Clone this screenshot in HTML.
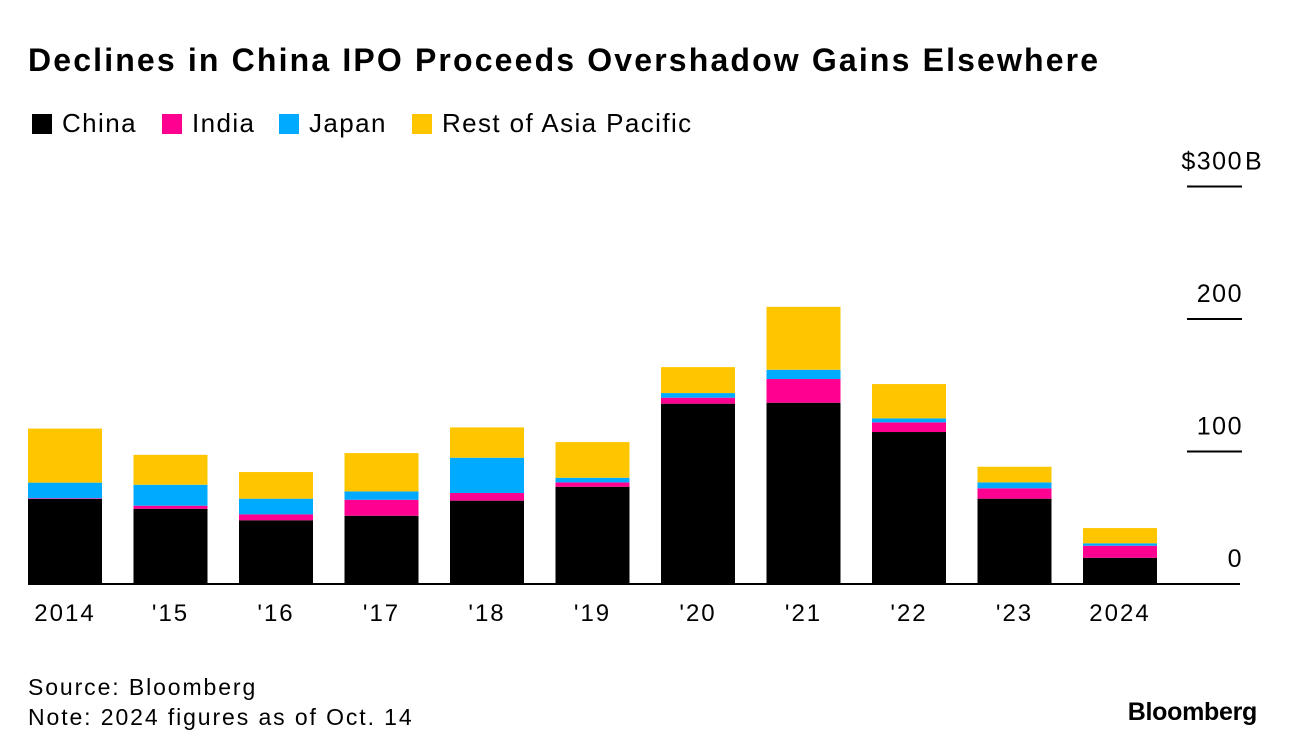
<!DOCTYPE html>
<html><head><meta charset="utf-8"><style>
body{margin:0;background:#fff;font-family:"Liberation Sans",sans-serif;}
#wrap{position:relative;width:1296px;height:756px;overflow:hidden;}
h1{position:absolute;left:28px;top:42px;margin:0;font-size:32px;font-weight:bold;letter-spacing:2.15px;color:#000;white-space:nowrap;}
.leg{position:absolute;top:108px;font-size:26px;color:#000;display:flex;align-items:center;letter-spacing:1.4px;}
.sw{width:20px;height:20px;margin-right:10px;display:inline-block;}
.foot{position:absolute;left:28px;font-size:23px;color:#000;letter-spacing:1.9px;white-space:nowrap;}
</style></head><body>
<div id="wrap">
<h1>Declines in China IPO Proceeds Overshadow Gains Elsewhere</h1>
<div class="leg" style="left:32px"><span class="sw" style="background:#000"></span>China</div>
<div class="leg" style="left:162px"><span class="sw" style="background:#ff0090"></span>India</div>
<div class="leg" style="left:279px"><span class="sw" style="background:#00aaff"></span>Japan</div>
<div class="leg" style="left:412px"><span class="sw" style="background:#ffc600"></span>Rest of Asia Pacific</div>
<svg id="svg" width="1296" height="756" style="position:absolute;left:0;top:0"></svg>
<div class="foot" style="top:674px">Source: Bloomberg</div>
<div class="foot" style="top:704px">Note: 2024 figures as of Oct. 14</div>
<div style="position:absolute;right:39px;top:698px;font-size:25px;font-weight:bold;letter-spacing:-0.3px">Bloomberg</div>
</div>
<script>
const categories=["2014","'15","'16","'17","'18","'19","'20","'21","'22","'23","2024"];
const china=[64.2,56.8,48.1,51.5,62.9,73.4,136.1,136.8,114.7,64.4,19.8];
const india=[0.5,2.3,4.5,12.1,5.8,3.3,4.5,17.9,7.3,7.8,9.1];
const japan=[11.8,15.8,11.8,6.3,26.6,3.5,3.5,7.0,3.0,4.5,1.8];
const rest=[40.8,22.6,20.1,28.9,22.9,26.9,19.6,47.5,25.9,11.8,11.5];
const ticks=[0,100,200,300];
const tickLabels=["0","100","200","$300"];
const tickSuffix=["","","","B"];
const NS="http://www.w3.org/2000/svg";
const svg=document.getElementById('svg');
const y0=584,ppu=1.325;
const y=v=>y0-v*ppu;
const x=i=>28+i*105.5;
const bw=74;
function mk(t,a){const e=document.createElementNS(NS,t);for(const k in a)e.setAttribute(k,a[k]);svg.appendChild(e);return e;}
ticks.forEach((t,i)=>{
  if(t>0){const l=mk('line',{x1:1187,x2:1242,y1:y(t),y2:y(t),stroke:'#000','stroke-width':2});
  
  }
  const tx=mk('text',{x:1243,y:y(t)-17,'text-anchor':'end','font-size':25,fill:'#000','font-family':'Liberation Sans','letter-spacing':'1.5'});
  tx.textContent=tickLabels[i];
  
  
  if(tickSuffix[i]){
    const sx=mk('text',{x:1245,y:y(t)-17,'font-size':25,fill:'#000','font-family':'Liberation Sans'});
    sx.textContent=tickSuffix[i];
    
    
  }
});
const series=[[china,'#000','china'],[india,'#ff0090','india'],[japan,'#00aaff','japan'],[rest,'#ffc600','rest']];
categories.forEach((c,i)=>{
  let base=0;
  series.forEach(([arr,col,nm])=>{
    const v=arr[i];
    const r=mk('rect',{x:x(i),y:y(base+v),width:bw,height:v*ppu,fill:col});
    
    
    base+=v;
  });
  const t=mk('text',{x:x(i)+bw/2,y:621,'text-anchor':'middle','font-size':24,fill:'#000','font-family':'Liberation Sans','letter-spacing':'2'});
  t.textContent=c;
  
  
});
const ax=mk('line',{x1:28,x2:1240,y1:y0,y2:y0,stroke:'#000','stroke-width':2});


</script>
</body></html>
